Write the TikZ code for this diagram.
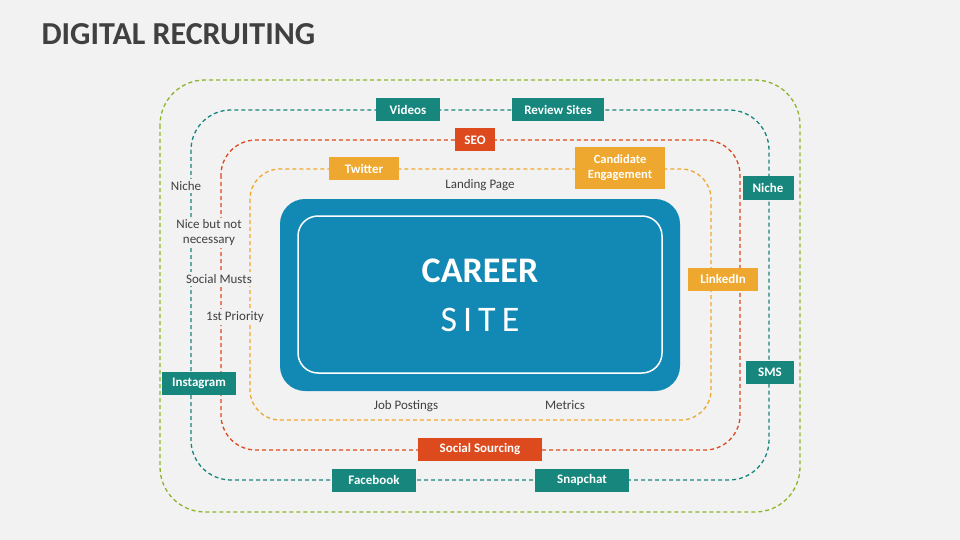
\documentclass[tikz,border=0pt]{standalone}
\usepackage{fontspec}
\setmainfont{Carlito}
\definecolor{bg}{HTML}{F2F2F2}
\definecolor{cgreen}{HTML}{8DB52A}
\definecolor{cteal}{HTML}{17877E}
\definecolor{cred}{HTML}{DD4A1E}
\definecolor{corange}{HTML}{EFA82F}
\definecolor{cblue}{HTML}{1289B5}
\definecolor{ctitle}{HTML}{404040}
\tikzset{
 ring/.style={draw=#1, dashed, line width=1.3pt, dash pattern=on 4pt off 3pt},
 tag/.style={fill=#1, text=white, font=\bfseries\fontsize{13}{15}\selectfont, minimum height=23pt, inner sep=4pt, align=center},
 plain/.style={fill=bg, text=ctitle, font=\fontsize{13}{15}\selectfont, inner sep=2pt, align=center}
}
\begin{document}
\begin{tikzpicture}[x=1pt,y=-1pt]
\fill[bg] (0,0) rectangle (960,540);
\node[anchor=west, text=ctitle, font=\bfseries\fontsize{32}{36}\selectfont] (title) at (38,34) {DIGITAL RECRUITING};
\draw[ring=cgreen, rounded corners=45pt] (160,80) rectangle (800,512);
\draw[ring=cteal, rounded corners=40pt] (191,110) rectangle (769,480);
\draw[ring=cred, rounded corners=35pt] (221,140) rectangle (740,450);
\draw[ring=corange, rounded corners=30pt] (250,169) rectangle (711,420);
\fill[cblue, rounded corners=25pt] (280,199) rectangle (680,391);
\draw[white, line width=1.5pt, rounded corners=20pt] (298,216) rectangle (662,373);
\node[text=white, font=\bfseries\fontsize{36}{40}\selectfont] (career) at (480,271) {CAREER};
\node[text=white, font=\fontsize{36}{40}\selectfont] (site) at (480,320) {S\,I\,T\,E};
\node[tag=cteal, minimum width=64pt] (videos) at (408,110) {Videos};
\node[tag=cteal, minimum width=92pt] (review) at (558,110) {Review Sites};
\node[tag=cred, minimum width=40pt] (seo) at (475,140) {SEO};
\node[tag=corange, minimum width=70pt] (twitter) at (364,169) {Twitter};
\node[tag=corange, minimum width=90pt, inner sep=2pt, font=\bfseries\fontsize{12.5}{15}\selectfont, minimum height=41pt] (cand) at (620,168) {Candidate\\Engagement};
\node[tag=cteal, minimum width=51pt] (niche2) at (768,188) {Niche};
\node[tag=corange, minimum width=70pt] (linkedin) at (723,279) {LinkedIn};
\node[tag=cteal, minimum width=48pt] (sms) at (770,372) {SMS};
\node[tag=cteal, minimum width=74pt] (insta) at (199,383) {Instagram};
\node[tag=cred, minimum width=124pt] (social) at (480,449) {Social Sourcing};
\node[tag=cteal, minimum width=84pt] (fb) at (374,480) {Facebook};
\node[tag=cteal, minimum width=94pt] (snap) at (582,480) {Snapchat};
\node[plain] (niche1) at (186,186) {Niche};
\node[plain] (nice) at (209,233) {Nice but not\\necessary};
\node[plain] (musts) at (219,279) {Social Musts};
\node[plain] (prio) at (235,317) {1st Priority};
\node[plain] (landing) at (480,185) {Landing Page};
\node[plain] (jobs) at (406,406) {Job Postings};
\node[plain] (metrics) at (565,405) {Metrics};
\end{tikzpicture}
\end{document}
